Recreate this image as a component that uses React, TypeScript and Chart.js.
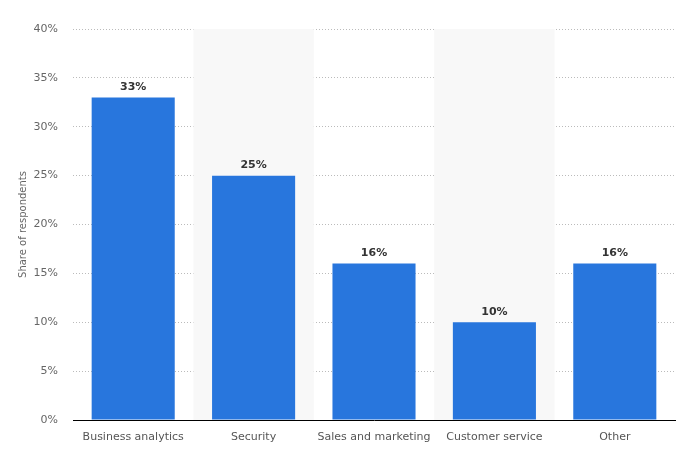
import { useEffect, useRef } from 'react';
import { Chart, registerables } from 'chart.js';

Chart.register(...registerables);

const categories = ['Business analytics', 'Security', 'Sales and marketing', 'Customer service', 'Other'];
const shares = [33, 25, 16, 10, 16];
const bandedIndexes = [1, 3];

const FONT = '"DejaVu Sans", Verdana, sans-serif';

// bandes grises derrière une catégorie sur deux
const bandPlugin = {
  id: 'bands',
  beforeDatasetsDraw(chart: any) {
    const { ctx, chartArea, scales } = chart;
    const x = scales.x;
    const step = (chartArea.right - chartArea.left) / categories.length;
    ctx.save();
    ctx.fillStyle = '#f8f8f8';
    bandedIndexes.forEach((i) => {
      const cx = x.getPixelForValue(i);
      ctx.fillRect(cx - step / 2, chartArea.top, step, chartArea.bottom - chartArea.top);
    });
    ctx.restore();
  },
};

// étiquettes de valeur au-dessus des barres
const labelPlugin = {
  id: 'valueLabels',
  afterDatasetsDraw(chart: any) {
    const { ctx } = chart;
    const meta = chart.getDatasetMeta(0);
    ctx.save();
    ctx.font = `bold 11px ${FONT}`;
    ctx.fillStyle = '#333333';
    ctx.textAlign = 'center';
    ctx.textBaseline = 'bottom';
    meta.data.forEach((bar: any, i: number) => {
      ctx.fillText(`${shares[i]}%`, bar.x, bar.y - 5);
    });
    ctx.restore();
  },
};

export default function App() {
  const chartRef = useRef<HTMLCanvasElement>(null);
  const chartInstance = useRef<Chart | null>(null);

  useEffect(() => {
    if (!chartRef.current) return;
    if (chartInstance.current) chartInstance.current.destroy();
    const ctx = chartRef.current.getContext('2d');
    if (!ctx) return;

    chartInstance.current = new Chart(ctx, {
      type: 'bar',
      data: {
        labels: categories,
        datasets: [
          {
            data: shares,
            backgroundColor: '#2876dd',
            categoryPercentage: 0.69,
            barPercentage: 1,
          },
        ],
      },
      plugins: [bandPlugin, labelPlugin],
      options: {
        responsive: false,
        animation: false,
        layout: { padding: { top: 29, right: 22, left: 0, bottom: 0 } },
        plugins: {
          legend: { display: false },
          tooltip: { enabled: false },
        },
        scales: {
          x: {
            grid: { display: false, drawTicks: false },
            border: { display: true, color: '#000000', width: 1 },
            ticks: { color: '#555555', font: { family: FONT, size: 11 }, padding: 11 },
            afterFit(scale: any) {
              scale.height = 44;
            },
          },
          y: {
            min: 0,
            max: 40,
            ticks: {
              stepSize: 5,
              color: '#666666',
              font: { family: FONT, size: 11 },
              padding: 15,
              callback: (v: any) => `${v}%`,
            },
            grid: { color: '#bbbbbb', drawTicks: false },
            border: { display: false, dash: [1, 2] },
            title: {
              display: true,
              text: 'Share of respondents',
              color: '#666666',
              font: { family: FONT, size: 10 },
              padding: { top: 17, bottom: 0 },
            },
            afterFit(scale: any) {
              scale.width = 73;
            },
          },
        },
      },
    });

    return () => {
      if (chartInstance.current) chartInstance.current.destroy();
    };
  }, []);

  return (
    <div style={{ position: 'absolute', left: 0, top: 0, width: 697, height: 464, background: '#ffffff' }}>
      <canvas ref={chartRef} width={697} height={464} />
    </div>
  );
}
